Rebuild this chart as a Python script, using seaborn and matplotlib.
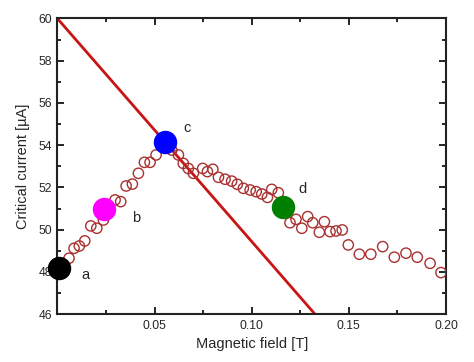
import numpy as np
import pandas as pd
import matplotlib
matplotlib.use("Agg")
import matplotlib.pyplot as plt
from matplotlib.ticker import MultipleLocator, FormatStrFormatter
import seaborn as sns

# open-circle measurement
field = [0.0060, 0.0086, 0.0113, 0.0141, 0.0172, 0.0203, 0.0237, 0.0297, 0.0326,
         0.0354, 0.0386, 0.0417, 0.0448, 0.0477, 0.0508, 0.0589, 0.0623, 0.0648,
         0.0674, 0.0700, 0.0748, 0.0772, 0.0800, 0.0829, 0.0863, 0.0897, 0.0926,
         0.0957, 0.0992, 0.1023, 0.1052, 0.1081, 0.1103, 0.1137, 0.1197, 0.1228,
         0.1258, 0.1288, 0.1314, 0.1348, 0.1374, 0.1403, 0.1434, 0.1466, 0.1497,
         0.1554, 0.1613, 0.1674, 0.1734, 0.1794, 0.1852, 0.1918, 0.1974]
current = [48.65, 49.12, 49.23, 49.47, 50.18, 50.07, 50.46, 51.41, 51.33,
           52.07, 52.16, 52.67, 53.19, 53.19, 53.54, 53.77, 53.54, 53.14,
           52.90, 52.67, 52.90, 52.75, 52.86, 52.48, 52.39, 52.30, 52.15,
           51.96, 51.88, 51.80, 51.69, 51.53, 51.91, 51.75, 50.33, 50.49,
           50.07, 50.62, 50.33, 49.88, 50.38, 49.91, 49.94, 49.99, 49.28,
           48.84, 48.84, 49.20, 48.70, 48.89, 48.70, 48.41, 47.97]

# highlighted states
labels = ["a", "b", "c", "d"]
label_field = [0.001, 0.0242, 0.0554, 0.1163]
label_current = [48.2, 50.97, 54.16, 51.06]
label_colors = ["black", "magenta", "blue", "green"]

# red straight line
line_field = [0.0, 0.1326]
line_current = [60.0, 46.0]

sns.set_theme(style="white")
plt.rcParams['font.family'] = ['Liberation Sans', 'DejaVu Sans']

fig = plt.figure(figsize=(4.74, 3.62), dpi=100)
ax = fig.add_axes([0.121, 0.132, 0.820, 0.817])

df = pd.DataFrame({"B": field, "Ic": current})
sns.scatterplot(data=df, x="B", y="Ic", ax=ax, s=55, facecolor="none",
                edgecolor="#a8302f", linewidth=1.0, zorder=3)

sns.lineplot(x=line_field, y=line_current, ax=ax, color="#c81414",
             linewidth=2.0, zorder=2)

# label offsets in points
offsets = {"a": (19, -5), "b": (23, -6.5), "c": (16, 10), "d": (14, 13)}
for lab, bx, iy, col in zip(labels, label_field, label_current, label_colors):
    ax.scatter([bx], [iy], s=285, color=col, zorder=4, clip_on=False, linewidths=0)
    ax.annotate(lab, (bx, iy), xytext=offsets[lab], textcoords="offset points",
                fontsize=10.5, ha="center", va="center")

ax.set_xlim(0, 0.20)
ax.set_ylim(46, 60)
ax.xaxis.set_major_locator(MultipleLocator(0.05))
ax.xaxis.set_minor_locator(MultipleLocator(0.025))
ax.yaxis.set_major_locator(MultipleLocator(2))
ax.yaxis.set_minor_locator(MultipleLocator(1))
ax.xaxis.set_major_formatter(FormatStrFormatter("%.2f"))
ax.yaxis.set_major_formatter(FormatStrFormatter("%d"))
ax.set_xticks([0.05, 0.10, 0.15, 0.20])

ax.tick_params(which="both", direction="in", top=True, right=True,
               bottom=True, left=True, color="black", width=1.2,
               labelsize=8.7, pad=4)
ax.tick_params(which="major", length=5)
ax.tick_params(which="minor", length=3)
for sp in ax.spines.values():
    sp.set_color("#222222")
    sp.set_linewidth(1.5)

ax.set_xlabel("Magnetic field [T]", fontsize=10.5, labelpad=4)
ax.set_ylabel("Critical current [\u00b5A]", fontsize=10.5, labelpad=6)

fig.savefig("out.png", dpi=100)
